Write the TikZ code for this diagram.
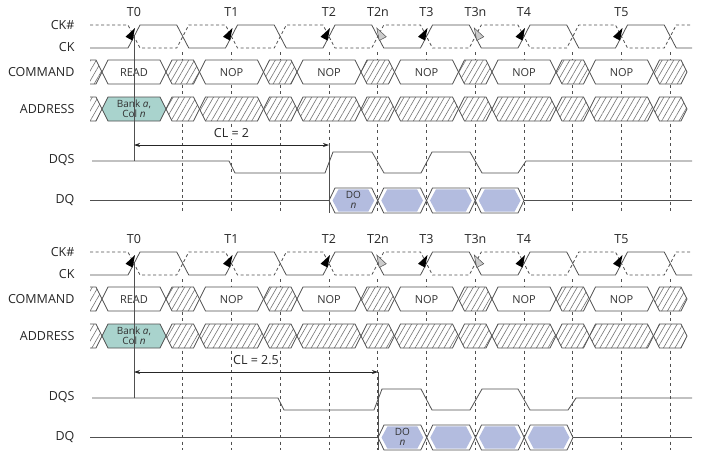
\documentclass[tikz,border=0pt]{standalone}
\usepackage{fontspec}
\setmainfont{Open Sans}
\usetikzlibrary{patterns.meta,arrows.meta}
\definecolor{ln}{HTML}{505050}
\definecolor{dqf}{HTML}{B3BCDF}
\definecolor{adf}{HTML}{A9D3CD}
\tikzset{
  sig/.style={draw=ln,line width=0.8pt},
  hatch/.style={sig,preaction={fill=white},pattern={Lines[angle=60,distance=5pt,line width=.6pt]},pattern color=ln!80},
  valid/.style={sig,fill=white},
  addr/.style={sig,fill=adf},
  dqo/.style={sig,fill=white},
  dqi/.style={draw=none,fill=dqf},
  grid/.style={draw=ln,line width=0.7pt,dash pattern=on 3pt off 3.5pt},
  lab/.style={anchor=east,font=\fontsize{12.5}{14}\selectfont,text=black!85},
  tl/.style={font=\fontsize{12.5}{14}\selectfont,text=black!85},
  cell/.style={font=\fontsize{11}{12}\selectfont,text=black!80},
  small/.style={font=\fontsize{10}{10}\selectfont,text=black!80,align=center,inner sep=0pt}
}
\newcommand\hexc[5]{\draw[#1] (#2,{(#4+#5)/2}) -- ({#2+6},#4) -- ({#3-6},#4) -- (#3,{(#4+#5)/2}) -- ({#3-6},#5) -- ({#2+6},#5) -- cycle;}
\newcommand\dqhex[4]{% a b top bot
  \hexc{dqo}{#1}{#2}{#3}{#4}
  \hexc{dqi}{#1+3.5}{#2-3.5}{#3+1.3}{#4-1.3}}
\newcommand\panel[6]{%
  \node[lab] (#4ckn) at (78,25) {CK\#};
  \node[lab] (#4ck) at (78,47) {CK};
  \node[lab] (#4cmd) at (78,72) {COMMAND};
  \node[lab] (#4adr) at (78,109) {ADDRESS};
  \node[lab] (#4dqs) at (78,{160+#3}) {DQS};
  \node[lab] (#4dq) at (78,{200+#3}) {DQ};
  \foreach \k in {0,...,5}{\node[tl] (#4t\k) at ({134+97.5*\k},12) {T\k};}
  \node[tl] (#4t2n) at (378,12) {T2n};
  \node[tl] (#4t3n) at (475.5,12) {T3n};
  \foreach \j in {1,...,11}{\draw[grid] ({134+48.75*\j},52) -- ({134+48.75*\j},{213+#3});}
  \draw[sig,dashed,dash pattern=on 3pt off 2.5pt] (90,25) \foreach \k in {0,...,5}{ -- ({134+97.5*\k-6},25) -- ({134+97.5*\k+6},48) -- ({182.75+97.5*\k-6},48) -- ({182.75+97.5*\k+6},25)} -- (692,25);
  \draw[sig] (90,48) \foreach \k in {0,...,5}{ -- ({134+97.5*\k-6},48) -- ({134+97.5*\k+6},25) -- ({182.75+97.5*\k-6},25) -- ({182.75+97.5*\k+6},48)} -- (692,48);
  \foreach \k in {0,...,5}{\fill[black] ({134+97.5*\k+1},28) -- ({134+97.5*\k-1.5},40.5) -- ({134+97.5*\k-8.5},36.8) -- cycle;}
  \foreach \h in {377.75,475.25}{\filldraw[fill=black!20,draw=ln,line width=.5pt] ({\h-1},28) -- ({\h+1.5},40.5) -- ({\h+8.5},36.8) -- cycle;}
  \fill[pattern={Lines[angle=60,distance=5pt,line width=.6pt]},pattern color=ln!80] (90,60) -- (96,60) -- (102,72) -- (96,84) -- (90,84) -- cycle;
  \draw[sig] (90,60) -- (96,60) -- (102,72) -- (96,84) -- (90,84);
  \fill[pattern={Lines[angle=60,distance=5pt,line width=.6pt]},pattern color=ln!80] (90,97) -- (96,97) -- (102,109) -- (96,121) -- (90,121) -- cycle;
  \draw[sig] (90,97) -- (96,97) -- (102,109) -- (96,121) -- (90,121);
  \foreach \k in {0,...,5}{
    \pgfmathsetmacro\a{134+97.5*\k-32}
    \pgfmathsetmacro\b{134+97.5*\k+32}
    \pgfmathsetmacro\c{134+97.5*\k+65.5}
    \hexc{valid}{\a}{\b}{60}{84}
    \hexc{hatch}{\b}{\c}{60}{84}
    \hexc{hatch}{\b}{\c}{97}{121}
    \ifnum\k>0 \hexc{hatch}{\a}{\b}{97}{121}\fi
  }
  \hexc{addr}{102}{166}{97}{121}
  \node[cell] (#4read) at (134,73) {READ};
  \foreach \k in {1,...,5}{\node[cell] (#4nop\k) at ({134+97.5*\k},73) {NOP};}
  \node[small] (#4bank) at (134,109) {Bank \emph{a},\\Col \emph{n}};
  \draw[sig] #5;
  \draw[sig] (90,{200+#3}) -- (#6,{200+#3});
  \foreach \i in {0,...,3}{\dqhex{#6+48.75*\i}{#6+48.75*\i+48.75}{188+#3}{213+#3}}
  \draw[sig] ({#6+195},{200+#3}) -- (692,{200+#3});
  \node[small] (#4do) at ({#6+24.4},{200+#3}) {DO\\\emph{n}};
  \draw[sig] (134,36) -- (134,{161+#3});
  \draw[sig] (#2,145) -- (#2,{213+#3});
  \draw[draw=black!85,line width=.7pt,{Stealth[length=6pt,width=4pt]}-{Stealth[length=6pt,width=4pt]}] (134,145) -- (#2,145);
  \node[tl,fill=white,inner sep=1pt] (#4cl) at ({(134+#2)/2},133) {#1};
}
\begin{document}
\begin{tikzpicture}[x=1pt,y=-1pt]
\useasboundingbox (0,0) rectangle (708,467);
\panel{CL = 2}{329}{0}{a}{(92,161) -- (229,161) -- (235,173) -- (325,173) -- (333,152) -- (372,152) -- (384,173) -- (421,173) -- (432,152) -- (470,152) -- (482,173) -- (518,173) -- (526,161) -- (692,161)}{329}
\begin{scope}[yshift=-227pt]
\panel{CL = 2.5}{378}{10}{b}{(92,171) -- (278,171) -- (284,183) -- (374,183) -- (382,162) -- (421,162) -- (432,183) -- (470,183) -- (482,162) -- (518,162) -- (530,183) -- (568,183) -- (576,171) -- (692,171)}{378}
\end{scope}
\end{tikzpicture}
\end{document}
